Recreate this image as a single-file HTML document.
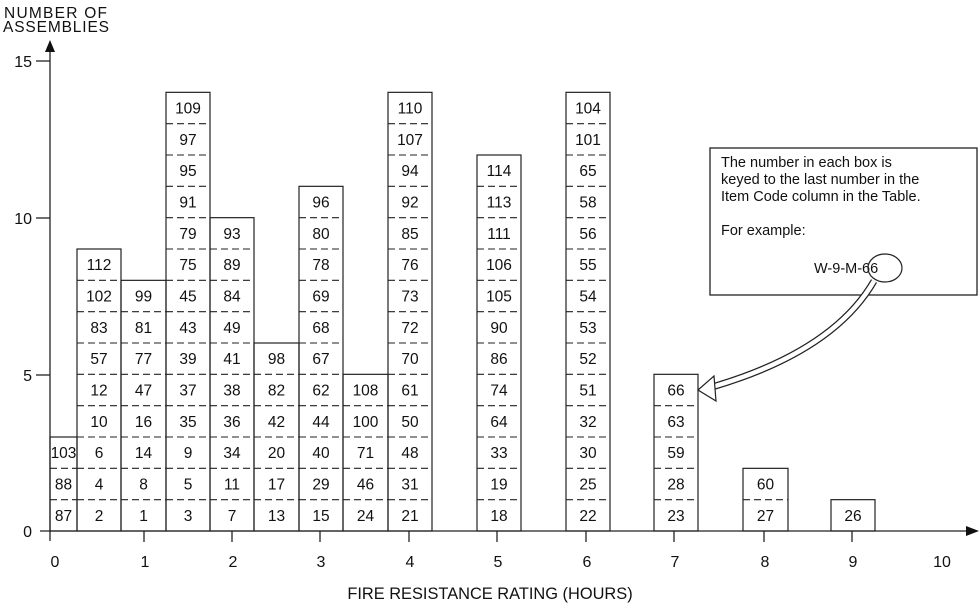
<!DOCTYPE html>
<html><head><meta charset="utf-8"><style>
html,body{margin:0;padding:0;background:#fff}
svg{display:block;font-family:"Liberation Sans",Arial,sans-serif}
</style></head><body>
<svg id="s" width="979" height="606" viewBox="0 0 979 606" xmlns="http://www.w3.org/2000/svg">
<rect width="979" height="606" fill="#fff"/>
<text x="4" y="18" font-size="15.5" fill="#111" textLength="103">NUMBER OF</text>
<text x="3" y="32" font-size="15.5" fill="#111" textLength="106">ASSEMBLIES</text>
<g stroke="#222" stroke-width="1.3">
<line x1="50" y1="50" x2="50" y2="541"/>
<line x1="40" y1="531" x2="968" y2="531"/>
<line x1="36" y1="61" x2="50" y2="61"/>
<line x1="36" y1="218" x2="50" y2="218"/>
<line x1="36" y1="375" x2="50" y2="375"/>
</g>
<polygon points="50,40 45,52 55,52" fill="#111"/>
<polygon points="979,531 966,526 966,536" fill="#111"/>
<g font-size="16" fill="#111" text-anchor="end">
<text x="32" y="67">15</text><text x="32" y="224">10</text><text x="32" y="381">5</text><text x="32" y="537">0</text>
</g>
<g id="xt"></g>
<text x="490" y="599" font-size="16.4" fill="#111" text-anchor="middle">FIRE RESISTANCE RATING (HOURS)</text>
<g id="bars"></g>
<rect x="710" y="148" width="267" height="147" fill="#fff" stroke="#222" stroke-width="1.3"/>
<g font-size="14.5" fill="#111">
<text x="721" y="167">The number in each box is</text>
<text x="721" y="184">keyed to the last number in the</text>
<text x="721" y="201">Item Code column in the Table.</text>
<text x="721" y="235">For example:</text>
<text x="814" y="273">W-9-M-66</text>
</g>
<ellipse cx="885" cy="268" rx="17" ry="14" fill="none" stroke="#222" stroke-width="1.2"/>
<path d="M874,281 C840,340 770,370 712,387" fill="none" stroke="#222" stroke-width="7"/>
<path d="M874,281 C840,340 770,370 712,387" fill="none" stroke="#fff" stroke-width="4.5"/>
<polygon points="698,390 714,376 716,401" fill="#fff" stroke="#222" stroke-width="1.2"/>
</svg>
<script>
const NS="http://www.w3.org/2000/svg",b=document.getElementById('bars'),xt=document.getElementById('xt');
function el(t,a,p,txt){const e=document.createElementNS(NS,t);for(const k in a)e.setAttribute(k,a[k]);if(txt!=null)e.textContent=txt;p.appendChild(e);return e;}
const xs=[55,145,233,321,410,498,587,675,765,853,942];
xs.forEach((x,i)=>{el('text',{x:x,y:567,'font-size':16,fill:'#111','text-anchor':'middle'},xt,i);
 if(i>0&&i<10) el('line',{x1:x-1,y1:531,x2:x-1,y2:542,stroke:'#222','stroke-width':1.3},xt);});
const cols=[[50,77,[87,88,103]],[77,121,[2,4,6,10,12,57,83,102,112]],[121,166,[1,8,14,16,47,77,81,99]],
[166,210,[3,5,9,35,37,39,43,45,75,79,91,95,97,109]],[210,254,[7,11,34,36,38,41,49,84,89,93]],
[254,299,[13,17,20,42,82,98]],[299,343,[15,29,40,44,62,67,68,69,78,80,96]],[343,388,[24,46,71,100,108]],
[388,432,[21,31,48,50,61,70,72,73,76,85,92,94,107,110]],[477,521,[18,19,33,64,74,86,90,105,106,111,113,114]],
[566,610,[22,25,30,32,51,52,53,54,55,56,58,65,101,104]],[654,698,[23,28,59,63,66]],[743,788,[27,60]],[831,875,[26]]];
const u=(531-61)/15;
cols.forEach(([a,c,v])=>{const top=531-u*v.length;
 el('rect',{x:a,y:top,width:c-a,height:531-top,fill:'none',stroke:'#222','stroke-width':1.2},b);
 v.forEach((n,i)=>{const y0=531-u*i;
  if(i>0) el('line',{x1:a,y1:y0,x2:c,y2:y0,stroke:'#222','stroke-width':1.1,'stroke-dasharray':'7,4'},b);
  el('text',{x:(a+c)/2,y:y0-u/2+5.5,'font-size':15.5,fill:'#111','text-anchor':'middle'},b,n);});});
</script>
</body></html>
